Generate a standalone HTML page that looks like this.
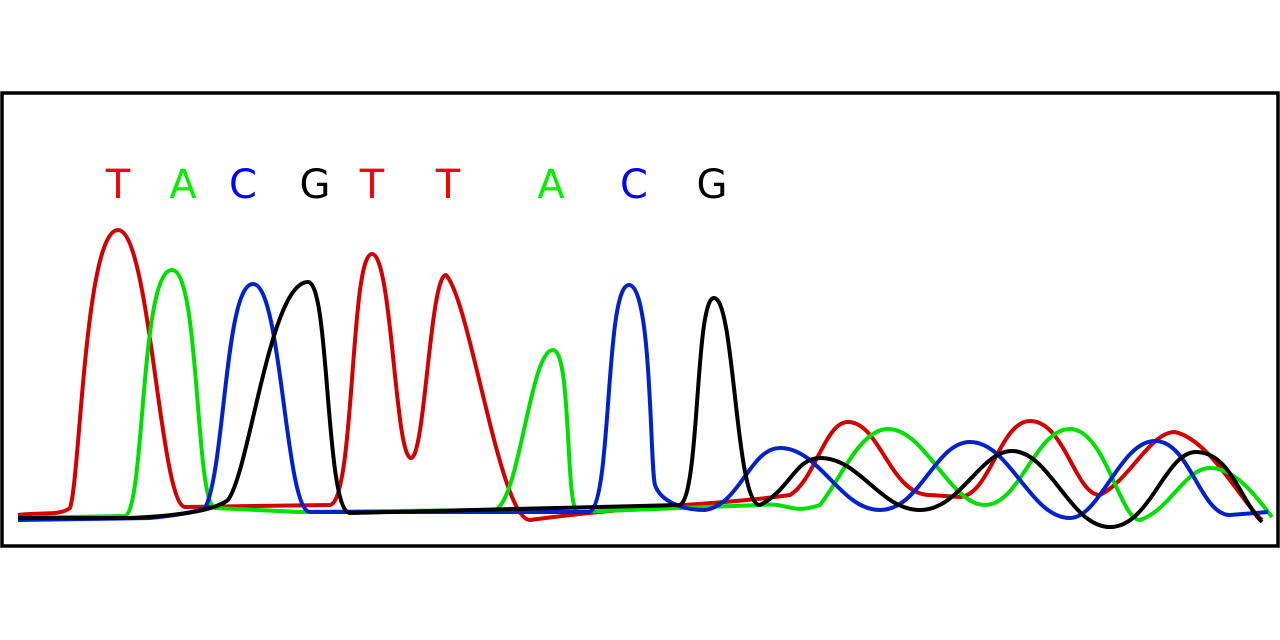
<!DOCTYPE html>
<html><head><meta charset="utf-8"><style>
html,body{margin:0;padding:0;background:#fff;width:1280px;height:640px;overflow:hidden}
svg{display:block}
text{font-family:"DejaVu Sans","Liberation Sans",sans-serif;font-size:40px}
</style></head><body>
<svg width="1280" height="640" viewBox="0 0 1280 640">
<rect x="2" y="93" width="1276" height="453" fill="#fff" stroke="#000" stroke-width="3.5"/>
<g text-anchor="middle">
<text x="118" y="198" fill="#f00">T</text>
<text x="183" y="198" fill="#0e0">A</text>
<text x="243" y="198" fill="#00f">C</text>
<text x="315" y="198" fill="#000">G</text>
<text x="372" y="198" fill="#f00">T</text>
<text x="448" y="198" fill="#f00">T</text>
<text x="551" y="198" fill="#0e0">A</text>
<text x="634" y="198" fill="#00f">C</text>
<text x="712" y="198" fill="#000">G</text>
</g>
<g fill="none" stroke-width="4" stroke-linejoin="round">
<path stroke="#d40000" d="M18,515 C40,512 60,516 70,508 C80,480 85,230 118,230 C150,230 160,505 185,507 L330,505 C355,500 350,254 372,254 C392,254 395,458 411,458 C425,458 430,275 446,275 C470,300 500,520 530,520 C640,505 720,505 790,495 C815,480 825,422 848,422 C880,422 890,495 930,495 L960,497 C990,495 1000,421 1030,421 C1065,421 1075,495 1100,495 C1130,480 1150,432 1175,432 C1210,440 1240,500 1262,520"/>
<path stroke="#00e000" d="M18,518 L125,516 C145,510 140,270 172,270 C200,270 195,505 215,508 L300,512 L495,510 C520,500 530,350 553,350 C572,350 565,512 578,512 L760,505 C790,502 790,515 820,505 C840,480 860,429 888,429 C925,429 950,505 985,505 C1020,505 1035,429 1070,429 C1105,429 1120,520 1140,520 C1170,510 1185,468 1210,468 C1235,468 1255,495 1272,517"/>
<path stroke="#0022cc" d="M18,520 L150,518 C180,515 195,512 205,508 C225,470 225,284 253,284 C282,284 285,512 310,512 L590,512 C612,500 605,285 629,285 C652,285 650,470 655,485 C660,500 680,510 705,510 C740,505 750,448 780,448 C820,448 840,510 880,510 C920,510 935,442 970,442 C1010,442 1030,518 1070,518 C1100,518 1120,441 1155,441 C1190,441 1200,515 1230,515 L1268,512"/>
<path stroke="#000" d="M18,518 L130,518 C180,516 215,510 228,500 C250,470 270,282 308,282 C330,282 325,512 350,513 L680,505 C700,495 695,298 714,298 C735,298 735,505 760,505 C790,490 795,458 820,458 C860,458 880,510 920,510 C960,510 980,451 1012,451 C1050,451 1070,527 1110,527 C1150,527 1165,452 1196,452 C1230,452 1240,500 1262,522"/>
</g>
</svg>
</body></html>
